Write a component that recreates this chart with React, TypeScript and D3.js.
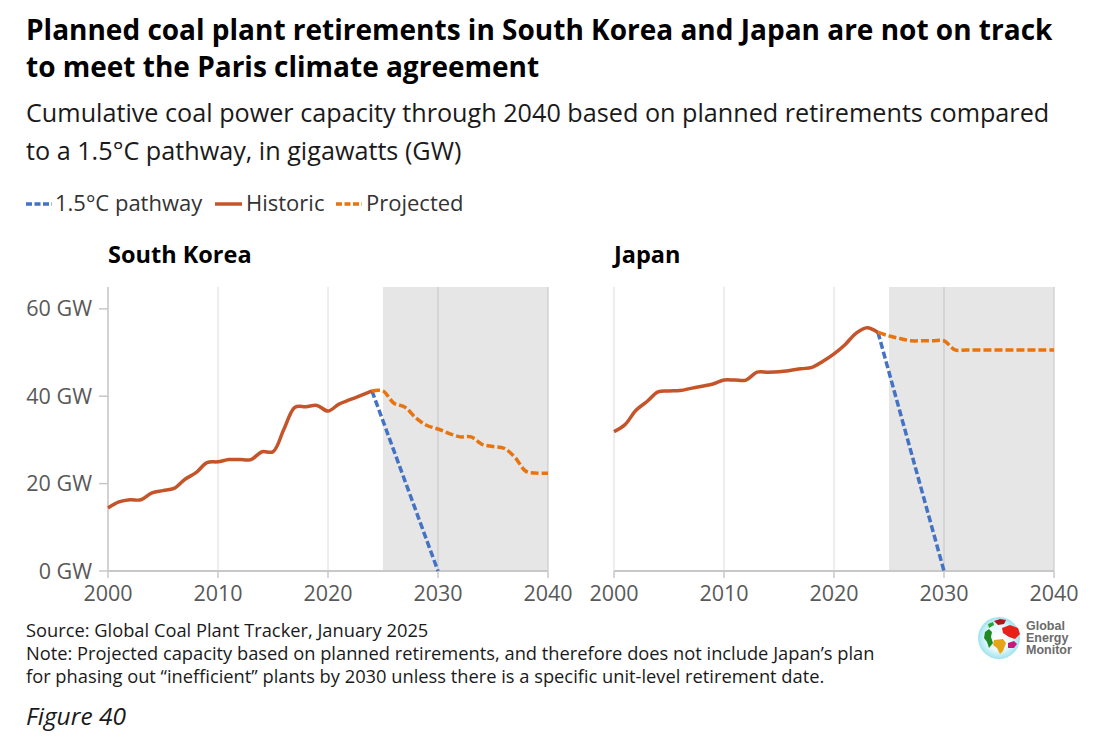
import React from "react";
import * as d3 from "d3";

const years = d3.range(2000, 2025);
const projYears = d3.range(2024, 2041);

const koreaHistoric = [14.4, 15.8, 16.3, 16.3, 17.9, 18.4, 18.9, 21.0, 22.5, 24.8, 25.0, 25.5, 25.5, 25.5, 27.3, 27.3, 32.5, 37.5, 37.6, 37.9, 36.6, 38.2, 39.2, 40.2, 41.2];
const koreaProjected = [41.2, 41.2, 38.4, 37.5, 35.0, 33.3, 32.5, 31.5, 30.7, 30.7, 29.0, 28.5, 28.1, 26.0, 22.8, 22.4, 22.4];
const koreaPathway = [[2024, 41.2], [2030, 0]];

const japanHistoric = [31.9, 33.5, 36.8, 38.8, 41.0, 41.2, 41.3, 41.8, 42.3, 42.8, 43.7, 43.7, 43.7, 45.5, 45.5, 45.6, 45.9, 46.3, 46.6, 48.0, 49.7, 51.8, 54.4, 55.7, 54.6];
const japanProjected = [54.6, 53.8, 53.2, 52.7, 52.7, 52.7, 52.7, 50.6, 50.6, 50.6, 50.6, 50.6, 50.6, 50.6, 50.6, 50.6, 50.6];
const japanPathway = [[2024, 54.6], [2030, 0]];

const xTicks = [2000, 2010, 2020, 2030, 2040];
const yTicks = [0, 20, 40, 60];

const panels = [
  { name: "South Korea", left: 108, hist: koreaHistoric, proj: koreaProjected, path: koreaPathway, yAxis: true },
  { name: "Japan", left: 614, hist: japanHistoric, proj: japanProjected, path: japanPathway, yAxis: false },
];

const HIST = "#C4542A";
const PROJ = "#E8740F";
const BLUE = "#4472C4";
const FONT = "'Open Sans', 'Noto Sans', sans-serif";

function Panel({ p }: { p: typeof panels[0] }) {
  const x = d3.scaleLinear().domain([2000, 2040]).range([p.left, p.left + 440]);
  const y = d3.scaleLinear().domain([0, 65]).range([571, 287]);
  const line = d3
    .line<[number, number]>()
    .x((d) => x(d[0]))
    .y((d) => y(d[1]))
    .curve(d3.curveCatmullRom.alpha(0.5));
  const straight = d3
    .line<number[]>()
    .x((d) => x(d[0]))
    .y((d) => y(d[1]));
  const histPts = years.map((yr, i) => [yr, p.hist[i]] as [number, number]);
  const projPts = projYears.map((yr, i) => [yr, p.proj[i]] as [number, number]);
  return (
    <g>
      <rect x={x(2025)} y={y(65)} width={x(2040) - x(2025)} height={y(0) - y(65)} fill="#E6E6E6" />
      {xTicks.map((t) => (
        <line key={t} x1={x(t)} x2={x(t)} y1={y(65)} y2={y(0)} stroke={t >= 2030 ? "#C4C4C4" : "#DCDCDC"} strokeWidth={1} />
      ))}
      {p.yAxis && <line x1={x(2000)} x2={x(2000)} y1={y(65)} y2={y(0)} stroke="#C8C8C8" strokeWidth={1.5} />}
      {p.yAxis &&
        yTicks.map((t) => (
          <g key={t}>
            <line x1={x(2000) - 9} x2={x(2000)} y1={y(t)} y2={y(t)} stroke="#C8C8C8" strokeWidth={1.5} />
            <text x={x(2000) - 16} y={y(t)} dy="0.35em" textAnchor="end" fontSize={21.5} fill="#595959" fontFamily={FONT}>
              {t} GW
            </text>
          </g>
        ))}
      <line x1={x(2000)} x2={x(2040)} y1={y(0)} y2={y(0)} stroke="#C8C8C8" strokeWidth={2} />
      {xTicks.map((t) => (
        <g key={t}>
          <line x1={x(t)} x2={x(t)} y1={y(0)} y2={y(0) + 7} stroke="#C8C8C8" strokeWidth={1.5} />
          <text x={x(t)} y={601} textAnchor="middle" fontSize={21.5} fill="#595959" fontFamily={FONT}>
            {t}
          </text>
        </g>
      ))}
      <path d={straight(p.path) || ""} fill="none" stroke={BLUE} strokeWidth={3.5} strokeDasharray="7,3" />
      <path d={line(histPts) || ""} fill="none" stroke={HIST} strokeWidth={3.5} strokeLinejoin="round" />
      <path d={line(projPts) || ""} fill="none" stroke={PROJ} strokeWidth={3.5} strokeDasharray="8,3" />
      <text x={p.left} y={263} fontSize={23.5} fontWeight={700} fill="#000" fontFamily={FONT}>
        {p.name}
      </text>
    </g>
  );
}

function Logo() {
  const cx = 999;
  const cy = 638;
  return (
    <g>
      <defs>
        <radialGradient id="globe" cx="50%" cy="50%" r="50%">
          <stop offset="0%" stopColor="#ffffff" />
          <stop offset="60%" stopColor="#e6f9fb" />
          <stop offset="100%" stopColor="#9fe3ee" />
        </radialGradient>
      </defs>
      <circle cx={cx} cy={cy} r={21} fill="url(#globe)" />
      <path d={`M${cx - 5},${cy - 17} l6,-2 l6,1 l-2,4 l-6,1 z`} fill="#b0141c" />
      <path d={`M${cx + 3},${cy - 10} l8,-3 l8,3 l2,6 l-5,5 l-6,-2 l-6,-4 z`} fill="#e8201a" />
      <path d={`M${cx - 14},${cy - 6} l4,-3 l3,3 l-1,5 l2,6 l-4,5 l-2,-6 l-3,-4 z`} fill="#1f8a22" />
      <path d={`M${cx - 11},${cy - 14} l5,-2 l1,3 l-5,3 z`} fill="#2aa12e" />
      <path d={`M${cx - 5},${cy + 2} l9,-1 l3,4 l-3,8 l-3,3 l-3,-6 l-4,-3 z`} fill="#e6a516" />
      <path d={`M${cx + 9},${cy + 5} l6,-2 l3,3 l-3,4 l-6,0 z`} fill="#c8187a" />
      {["Global", "Energy", "Monitor"].map((w, i) => (
        <text key={w} x={1026} y={630 + i * 12} fontSize={12.5} fontWeight={700} fill="#6b6b6b" fontFamily="'Liberation Sans', Arial, sans-serif">
          {w}
        </text>
      ))}
    </g>
  );
}

export default function App() {
  return (
    <svg width={1120} height={739} style={{ position: "absolute", left: 0, top: 0, background: "#fff" }}>
      <rect width={1120} height={739} fill="#fff" />
      <text x={26} y={40} fontSize={28} fontWeight={700} fill="#000" fontFamily={FONT}>
        Planned coal plant retirements in South Korea and Japan are not on track
      </text>
      <text x={26} y={77} fontSize={28} fontWeight={700} fill="#000" fontFamily={FONT}>
        to meet the Paris climate agreement
      </text>
      <text x={26} y={122} fontSize={25.2} fill="#1a1a1a" fontFamily={FONT}>
        Cumulative coal power capacity through 2040 based on planned retirements compared
      </text>
      <text x={26} y={160} fontSize={25.2} fill="#1a1a1a" fontFamily={FONT}>
        to a 1.5°C pathway, in gigawatts (GW)
      </text>
      <g fontFamily={FONT} fontSize={22} fill="#333">
        <line x1={26} x2={52} y1={204} y2={204} stroke={BLUE} strokeWidth={3.5} strokeDasharray="6,2.5" />
        <text x={55} y={211}>1.5°C pathway</text>
        <line x1={215} x2={242} y1={204} y2={204} stroke={HIST} strokeWidth={3.5} />
        <text x={246} y={211}>Historic</text>
        <line x1={336} x2={362} y1={204} y2={204} stroke={PROJ} strokeWidth={3.5} strokeDasharray="6,2.5" />
        <text x={366} y={211}>Projected</text>
      </g>
      {panels.map((p) => (
        <Panel key={p.name} p={p} />
      ))}
      <g fontFamily={FONT} fontSize={18.3} fill="#1a1a1a">
        <text x={26} y={637}>Source: Global Coal Plant Tracker, January 2025</text>
        <text x={26} y={660}>Note: Projected capacity based on planned retirements, and therefore does not include Japan’s plan</text>
        <text x={26} y={683}>for phasing out “inefficient” plants by 2030 unless there is a specific unit-level retirement date.</text>
      </g>
      <text x={26} y={725} fontSize={24.5} fontStyle="italic" fill="#1a1a1a" fontFamily={FONT}>
        Figure 40
      </text>
      <Logo />
    </svg>
  );
}
